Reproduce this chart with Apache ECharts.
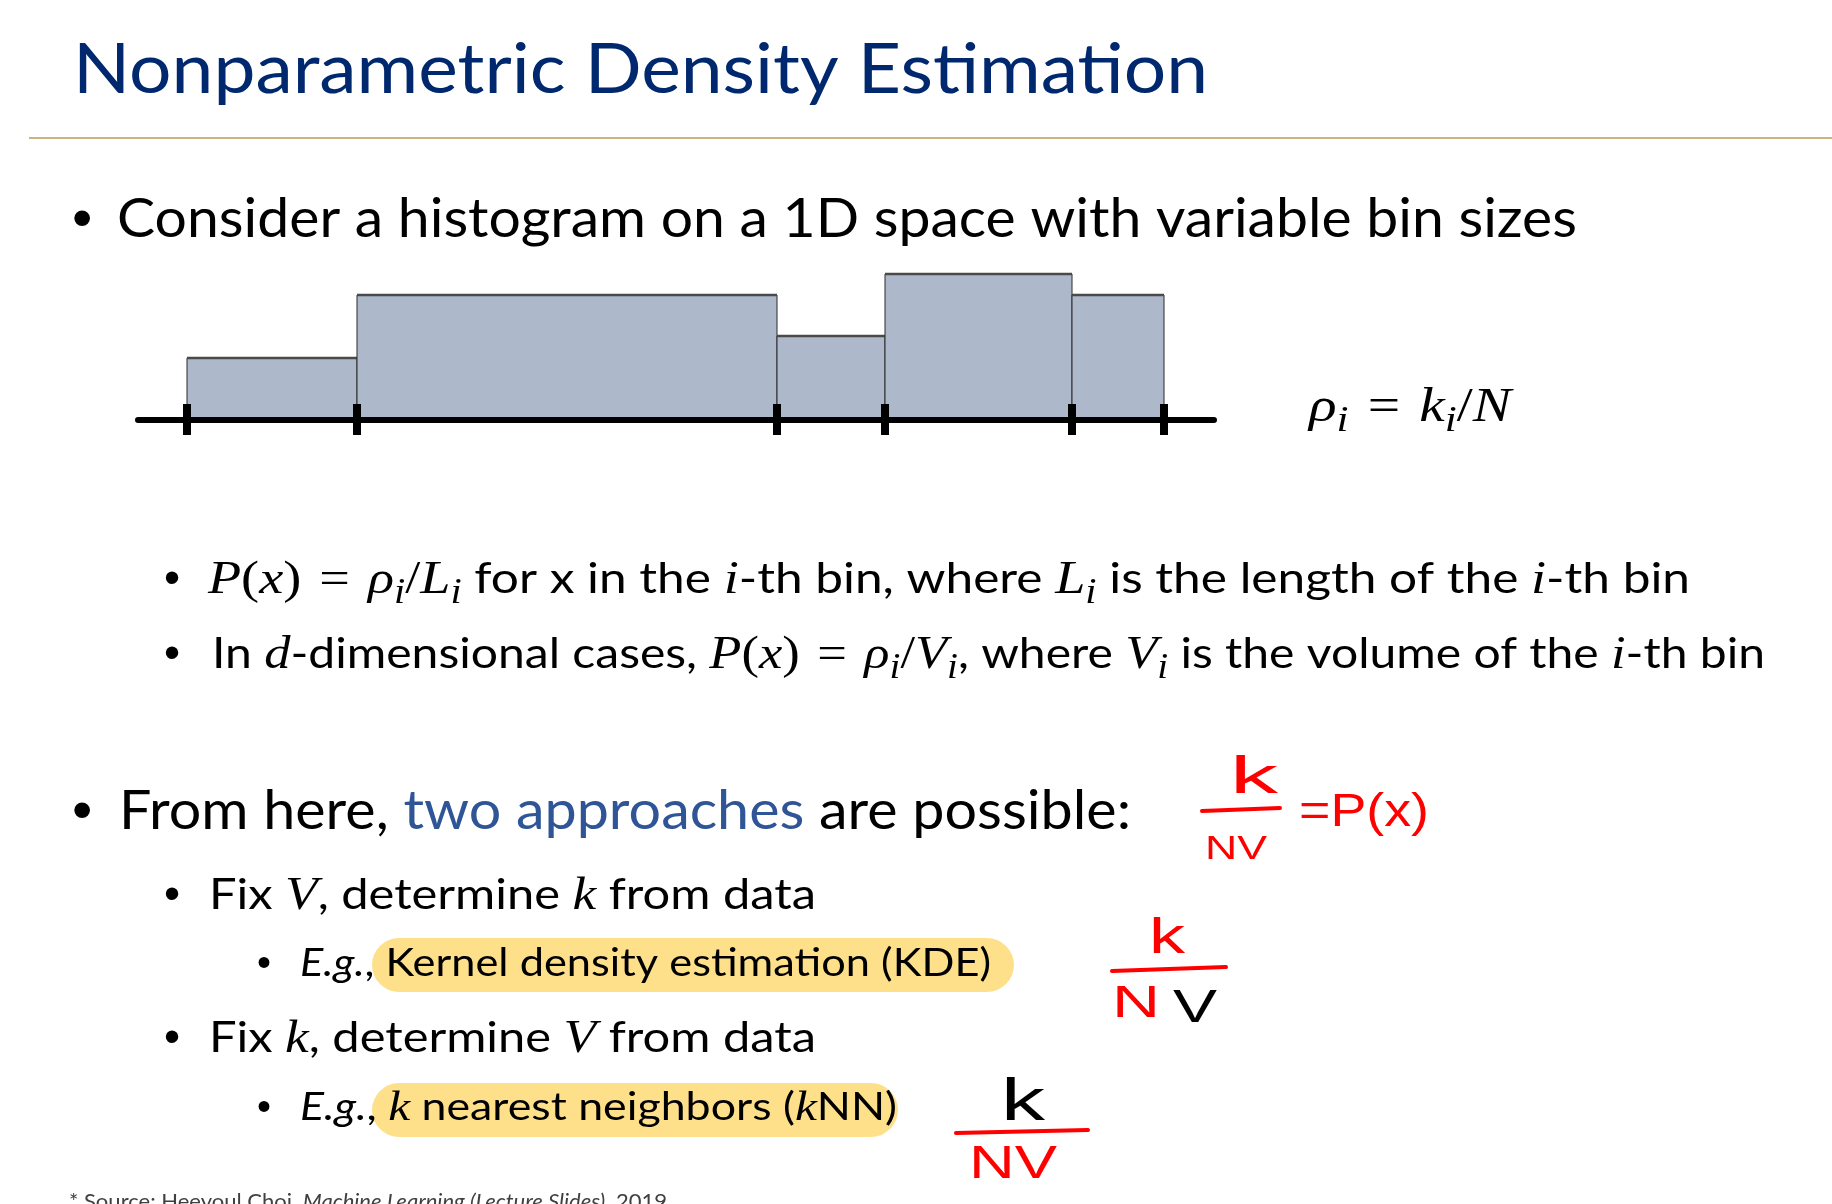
<!DOCTYPE html>
<html><head><meta charset="utf-8">
<script src="https://cdn.jsdelivr.net/npm/echarts@6/dist/echarts.min.js"></script>
<style>html,body{margin:0;padding:0;background:#fff}#c{width:1832px;height:1204px}</style>
</head><body><div id="c"></div>
<script>
// ---- data ----
const binEdges = [0, 1.70, 5.90, 6.98, 8.85, 9.77];
const binHeights = [6.2, 12.5, 8.4, 14.6, 12.5];
const axisRange = [-0.49, 10.27];
const yRange = [0, 15];

// ---- text helpers ----
const BODY = 'Lato', MATH = 'Liberation Serif', HAND = 'Liberation Sans', BUL = 'Liberation Sans';
const ctx = document.createElement('canvas').getContext('2d');
function mkFont(s){ return (s.italic?'italic ':'normal ') + 'normal ' + s.size + 'px "' + s.family + '"'; }
function baseOff(font){ ctx.font = font; ctx.textBaseline = 'middle'; return ctx.measureText('H').actualBoundingBoxDescent; }
function adv(font, t){ ctx.font = font; ctx.textBaseline = 'alphabetic'; return ctx.measureText(t).width; }
function textLine(segs, x, baseline, width){
  let cx = 0; const children = [];
  segs.forEach(s => {
    const font = mkFont(s);
    const w = adv(font, s.t);
    children.push({type:'text', x:cx, y:(s.dy||0) - baseOff(font),
      style:{text:s.t, fontFamily:s.family, fontSize:s.size, fontStyle:s.italic?'italic':'normal', fontWeight:'normal',
        fill:s.color||'#000', textAlign:'left', align:'left', textVerticalAlign:'middle', verticalAlign:'middle'}});
    cx += w;
  });
  return {type:'group', x:x, y:baseline, scaleX: width ? width/cx : 1, children:children};
}
function B(t,size,o){ return Object.assign({t:t, family:BODY, size:size}, o||{}); }
function M(t,size,o){ return Object.assign({t:t, family:MATH, size:size, italic:true}, o||{}); }
function R(t,size,o){ return Object.assign({t:t, family:MATH, size:size}, o||{}); }
function S(t,size){ return {t:t, family:MATH, size:Math.round(size*0.74), italic:true, dy:Math.round(size*0.21)}; }
const EQ = '\u2004=\u2004';

const S1 = 55, S2 = 43, S3 = 39, MS = 47;
const TITLE = '#00286E', BLUE = '#2F5597', RED = '#FF0000';

const g = [];
// highlights
g.push({type:'rect', shape:{x:372, y:938, width:642, height:54, r:27}, style:{fill:'#FFE08A'}});
g.push({type:'rect', shape:{x:372, y:1083, width:526, height:54, r:27}, style:{fill:'#FFE08A'}});
// title + rule
g.push(textLine([B('Nonparametric Density Estimation', 70, {color:TITLE})], 73, 93, 1135));
g.push({type:'line', shape:{x1:29, y1:138, x2:1832, y2:138}, style:{stroke:'#BC9A58', lineWidth:1.5}});
// bullet 1
g.push(textLine([{t:'\u2022', family:BUL, size:58}], 72, 237));
g.push(textLine([B('Consider a histogram on a 1D space with variable bin sizes', S1)], 117, 237, 1460));
// rho = k/N
g.push(textLine([M('\u03c1',48), S('i',48), R(EQ,48), M('k',48), S('i',48), R('/',48), M('N',48)], 1309, 421, 202));
// sub bullets
g.push(textLine([{t:'\u2022', family:BUL, size:46}], 164, 593));
g.push(textLine([M('P',MS), R('(',MS), M('x',MS), R(')',MS), R(EQ,MS), M('\u03c1',MS), S('i',MS), R('/',MS), M('L',MS), S('i',MS),
  B(' for x in the ',S2), M('i',MS), B('-th bin, where ',S2), M('L',MS), S('i',MS), B(' is the length of the ',S2), M('i',MS), B('-th bin',S2)], 208, 593, 1482));
g.push(textLine([{t:'\u2022', family:BUL, size:46}], 164, 668));
g.push(textLine([B('In ',S2), M('d',MS), B('-dimensional cases, ',S2), M('P',MS), R('(',MS), M('x',MS), R(')',MS), R(EQ,MS), M('\u03c1',MS), S('i',MS), R('/',MS), M('V',MS), S('i',MS),
  B(', where ',S2), M('V',MS), S('i',MS), B(' is the volume of the ',S2), M('i',MS), B('-th bin',S2)], 212, 668, 1553));
// bullet 2
g.push(textLine([{t:'\u2022', family:BUL, size:58}], 72, 829));
g.push(textLine([B('From here, ',S1), B('two approaches',S1,{color:BLUE}), B(' are possible:',S1)], 119, 829, 1012));
g.push(textLine([{t:'\u2022', family:BUL, size:46}], 164, 909));
g.push(textLine([B('Fix ',S2), M('V',MS), B(', determine ',S2), M('k',MS), B(' from data',S2)], 209, 909, 607));
g.push(textLine([{t:'\u2022', family:BUL, size:40}], 257, 976));
g.push(textLine([B('E.g.',S3,{italic:true}), B(', Kernel density estimation (KDE)',S3)], 300, 976, 691));
g.push(textLine([{t:'\u2022', family:BUL, size:46}], 164, 1052));
g.push(textLine([B('Fix ',S2), M('k',MS), B(', determine ',S2), M('V',MS), B(' from data',S2)], 209, 1052, 607));
g.push(textLine([{t:'\u2022', family:BUL, size:40}], 257, 1120));
g.push(textLine([B('E.g.',S3,{italic:true}), B(', ',S3), M('k',43), B(' nearest neighbors (',S3), M('k',43), B('NN)',S3)], 300, 1120, 597));
// footer
g.push(textLine([B('* Source: Heeyoul Choi, ',21,{color:'#404040'}), B('Machine Learning (Lecture Slides)',21,{color:'#404040',italic:true}), B(', 2019',21,{color:'#404040'})], 69, 1209, 598));
// handwritten annotations
const H = (t,size,color) => ({t:t, family:HAND, size:size, color:color});
g.push(textLine([H('k',52,RED)], 1230, 793, 48));
g.push({type:'line', shape:{x1:1202, y1:811, x2:1280, y2:808}, style:{stroke:RED, lineWidth:4, lineCap:'round'}});
g.push(textLine([H('NV',34,RED)], 1205, 859, 62));
g.push(textLine([H('=P(x)',46,RED)], 1299, 826, 130));
g.push(textLine([H('k',50,RED)], 1149, 953, 36));
g.push({type:'line', shape:{x1:1112, y1:971, x2:1226, y2:967}, style:{stroke:RED, lineWidth:4, lineCap:'round'}});
g.push(textLine([H('N',44,RED)], 1112, 1017, 48));
g.push(textLine([H('V',46,'#000')], 1173, 1022, 44));
g.push(textLine([H('k',60,'#000')], 1001, 1120, 44));
g.push({type:'line', shape:{x1:956, y1:1133, x2:1088, y2:1130}, style:{stroke:RED, lineWidth:4, lineCap:'round'}});
g.push(textLine([H('NV',46,RED)], 969, 1178, 88));

// ---- chart ----
const binData = binHeights.map((h,i) => [binEdges[i], binEdges[i+1], h]);
const tickData = binEdges.map(e => [e, 0]);
const chart = echarts.init(document.getElementById('c'));
chart.setOption({
  animation:false,
  grid:{left:138, right:618, top:270, bottom:784},
  xAxis:{type:'value', min:axisRange[0], max:axisRange[1], z:3,
    axisLine:{show:true, onZero:true, lineStyle:{color:'#000', width:6}},
    axisTick:{show:false}, axisLabel:{show:false}, splitLine:{show:false}},
  yAxis:{type:'value', min:yRange[0], max:yRange[1], show:false},
  series:[
    {type:'custom', clip:false, data:binData, encode:{x:[0,1], y:2}, z:2,
     renderItem:(params, api) => {
       const p0 = api.coord([api.value(0), 0]);
       const p1 = api.coord([api.value(1), api.value(2)]);
       return {type:'group', children:[
         {type:'rect', shape:{x:p0[0], y:p1[1], width:p1[0]-p0[0], height:p0[1]-p1[1]},
          style:{fill:'#ADB9CA', stroke:'#2a2a2a', lineWidth:1}},
         {type:'line', shape:{x1:p0[0], y1:p1[1], x2:p1[0], y2:p1[1]}, style:{stroke:'#4a4a4a', lineWidth:2.5}}
       ]};
     }},
    {type:'custom', clip:false, data:tickData, encode:{x:0, y:1}, z:4,
     renderItem:(params, api) => {
       const p = api.coord([api.value(0), 0]);
       return {type:'rect', shape:{x:p[0]-4, y:p[1]-16, width:8, height:31}, style:{fill:'#000'}};
     }}
  ],
  graphic:{elements:g}
});
</script></body></html>
